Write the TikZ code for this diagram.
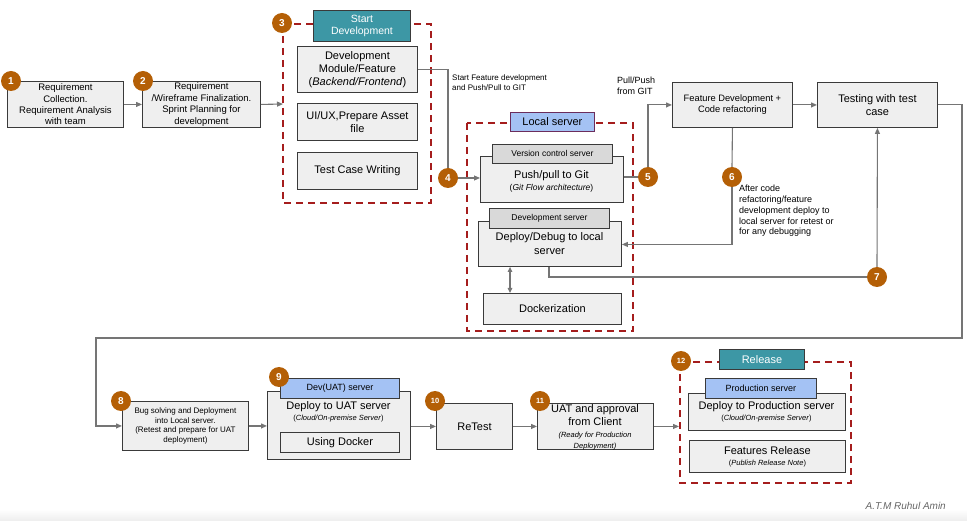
\documentclass[tikz,border=0pt]{standalone}
\usepackage{fontspec}
\setmainfont{Liberation Sans}
\usetikzlibrary{arrows.meta,calc}
\definecolor{boxfill}{HTML}{EFEFEF}
\definecolor{boxline}{HTML}{3A3A3A}
\definecolor{headfill}{HTML}{D9D9D9}
\definecolor{bluefill}{HTML}{A4C2F4}
\definecolor{tealfill}{HTML}{3D97A5}
\definecolor{badgefill}{HTML}{B45F06}
\definecolor{grpred}{HTML}{A51D1D}
\definecolor{conn}{HTML}{757575}
\definecolor{purpleline}{HTML}{6B2D5C}
\definecolor{authorgray}{HTML}{666666}
\tikzset{
  fs/.style={font=\fontsize{#1}{\dimexpr #1pt*6/5\relax}\selectfont},
  box/.style={draw=boxline, line width=0.9pt, fill=boxfill, inner sep=0pt, align=center, anchor=north west},
  headbox/.style={box, fill=headfill},
  bluebox/.style={box, fill=bluefill},
  tealbox/.style={box, fill=tealfill, text=white},
  grp/.style={draw=grpred, line width=1.8pt, dash pattern=on 7pt off 5pt},
  badge/.style={circle, fill=badgefill, text=white, inner sep=0pt, minimum size=20pt, font=\bfseries\fontsize{10}{12}\selectfont},
  smallbadge/.style={badge, font=\bfseries\fontsize{7.5}{9}\selectfont},
  txt/.style={inner sep=0pt, align=center},
  ltxt/.style={inner sep=0pt, align=left, anchor=north west},
  link/.style={draw=conn, line width=1.1pt},
  arr/.style={link, -{Triangle[length=6pt,width=5pt]}},
  darr/.style={link, {Triangle[length=5pt,width=4.5pt]}-{Triangle[length=5pt,width=4.5pt]}},
}
\newcommand{\bx}[6]{% style, name, x1, y1, x2, y2
  \node[#1, minimum width={#5-#3}, minimum height={#6-#4}] (#2) at (#3,#4) {};}
\begin{document}
\begin{tikzpicture}[x=1pt,y=-1pt]
\useasboundingbox (0,0) rectangle (967,521);
\shade[top color=white, bottom color=black!7, draw=none] (0,509) rectangle (967,521);

% ---------- group frames ----------
\draw[grp] (283,24) rectangle (431,203);
\draw[grp] (467,123) rectangle (633,331);
\draw[grp] (680,362) rectangle (851,483);

% ---------- top row ----------
\node[box, minimum width=116, minimum height=46, fs=9.5] (b1) at (7,81) {Requirement\\Collection.\\Requirement Analysis\\with team};
\node[box, minimum width=118, minimum height=46, fs=9.5] (b2) at (142,81) {Requirement\\/Wireframe Finalization.\\Sprint Planning for\\development};

\node[tealbox, minimum width=97, minimum height=31, fs=10.5] (startdev) at (313,10) {Start\\Development};
\node[box, minimum width=120, minimum height=46, fs=11] (devmod) at (297,46) {Development\\Module/Feature\\(\textit{Backend/Frontend})};
\node[box, minimum width=120, minimum height=37, fs=11] (uiux) at (297,103) {UI/UX,Prepare Asset\\file};
\node[box, minimum width=120, minimum height=37, fs=11] (testcase) at (297,152) {Test Case Writing};

% local server group
\node[bluebox, draw=purpleline, minimum width=84, minimum height=19, fs=11] (localsrv) at (510,112) {Local server};
\bx{box}{push}{480}{156}{623}{202}
\node[headbox, minimum width=120, minimum height=19, fs=8.5] (vcs) at (492,144) {Version control server};
\node[txt, fs=11] (pushtxt) at (551.5,181) {Push/pull to Git\\[-1pt]{\fontsize{8.5}{10}\selectfont(\textit{Git Flow architecture})}};

\bx{box}{deploy}{478}{221}{621}{266}
\node[headbox, minimum width=120, minimum height=20, fs=8.5] (devsrv) at (489,208) {Development server};
\node[txt, fs=11] (deploytxt) at (549.5,243.5) {Deploy/Debug to local\\server};
\node[box, minimum width=138, minimum height=31, fs=11] (docker) at (483,293) {Dockerization};

\node[box, minimum width=120, minimum height=45, fs=9.3] (feat) at (672,82) {Feature Development +\\Code refactoring};
\node[box, minimum width=120, minimum height=45, fs=11] (test) at (817,82) {Testing with test\\case};

% ---------- bottom row ----------
\node[box, minimum width=126, minimum height=49, fs=8] (b8) at (122,401) {Bug solving and Deployment\\into Local server.\\(Retest and prepare for UAT\\deployment)};
\bx{box}{uat}{267}{391}{410}{459}
\node[bluebox, minimum width=119, minimum height=20, fs=9] (uathead) at (280,378) {Dev(UAT) server};
\node[txt, fs=11] (uattxt) at (338.5,412) {Deploy to UAT server\\[-2pt]{\fontsize{7.5}{9}\selectfont(\textit{Cloud/On-premise Server})}};
\node[box, minimum width=119, minimum height=20, fs=11] (usedocker) at (280,432) {Using Docker};

\node[box, minimum width=76, minimum height=46, fs=11] (retest) at (436,403) {ReTest};
\bx{box}{approve}{537}{403}{653}{449}
\node[txt, fs=11] (approvetxt) at (595,427) {UAT and approval\\from Client\\[-1pt]{\fontsize{7.5}{9}\selectfont\textit{(Ready for Production}}\\[-3pt]{\fontsize{7.5}{9}\selectfont\textit{Deployment)}}};

\node[tealbox, minimum width=85, minimum height=20, fs=11] (release) at (719,349) {Release};
\bx{box}{prod}{688}{393}{845}{430}
\node[bluebox, minimum width=111, minimum height=20, fs=9] (prodhead) at (705,378) {Production server};
\node[txt, fs=11] (prodtxt) at (766.5,412) {Deploy to Production server\\[-2pt]{\fontsize{7.5}{9}\selectfont(\textit{Cloud/On-premise Server})}};
\node[box, minimum width=156, minimum height=32, fs=11] (featrel) at (689,440) {Features Release\\[-2pt]{\fontsize{7.5}{9}\selectfont(\textit{Publish Release Note})}};

% ---------- badges ----------
\node[badge] (n1) at (11,81) {1};
\node[badge] (n2) at (143,81) {2};
\node[badge] (n3) at (282,23) {3};
\node[badge] (n4) at (448,178) {4};
\node[badge] (n5) at (648,177) {5};
\node[badge] (n6) at (732,177) {6};
\node[badge] (n7) at (877,277) {7};
\node[badge] (n8) at (121,401) {8};
\node[badge] (n9) at (279,377) {9};
\node[smallbadge] (n10) at (435,401) {10};
\node[smallbadge] (n11) at (540,401) {11};
\node[smallbadge] (n12) at (681,361) {12};

% ---------- connectors ----------
\coordinate (g3w) at (283,104);
\coordinate (g12w) at (679,428);
\draw[arr] (b1.east) -- (b2.east -| b2.west);
\draw[arr] (b2.east) -- (g3w);
\draw[link] (devmod.east) -| (n4.north);
\draw[arr] (n4.east) -- (n4.east -| push.west);
\draw[link] (n5.west -| push.east) -- (n5.west);
\draw[arr] (n5.north) |- (feat.west);
\draw[arr] (feat.east) -- (test.west);
\draw[link] (feat.south) -- (n6.north);
\draw[arr] (n6.south) |- ($(deploy.east)+(0,0.5)$);
\draw[link] ($(deploy.south)+(-1,0)$) |- (n7.west);
\draw[arr] (n7.north) -- (test.south);
\draw[darr] (deploy.south -| 510,0) -- (docker.north -| 510,0);
\coordinate (r2) at (962,338);
\coordinate (r3) at (96,338);
\draw[arr] (test.east) -| (r2) -- (r3) |- (b8.west);
\draw[arr] (b8.east) -- (b8.east -| uat.west);
\draw[arr] (uat.east |- retest.west) -- (retest.west);
\draw[arr] (retest.east) -- (approve.west);
\draw[arr] (approve.east) -- (approve.east -| g12w);

% ---------- free labels ----------
\node[ltxt, fs=8] (lbl4) at (452,75) {Start Feature development\\and Push/Pull to GIT};
\node[ltxt, fs=9] (lbl5) at (617,77) {Pull/Push\\from GIT};
\node[ltxt, fs=9] (lbl6) at (739,185) {After code\\refactoring/feature\\development deploy to\\local server for retest or\\for any debugging};
\node[inner sep=0pt, anchor=south east, text=authorgray, fs=10] (author) at (946,510) {\textit{A.T.M Ruhul Amin}};
\end{tikzpicture}
\end{document}
